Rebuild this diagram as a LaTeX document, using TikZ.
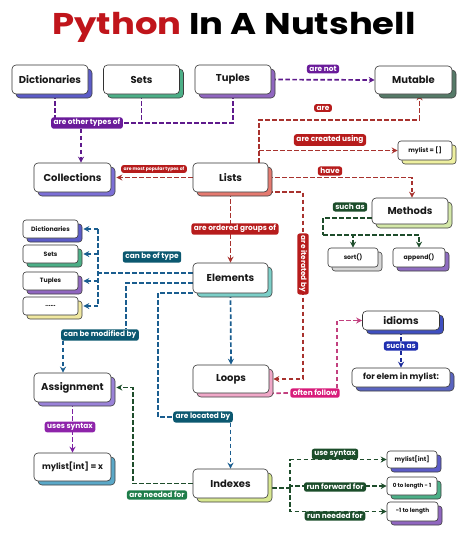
\documentclass[tikz,border=0pt]{standalone}
\usepackage{fontspec}
\setmainfont{Poppins}
\usepackage{tikz}
\usetikzlibrary{arrows.meta,shadows,backgrounds}

\definecolor{pyred}{HTML}{C0151B}
\definecolor{purpl}{HTML}{5E1A8C}
\definecolor{purlbl}{HTML}{6A1B9A}
\definecolor{redl}{HTML}{A8322E}
\definecolor{redlbl}{HTML}{B71C1C}
\definecolor{grn}{HTML}{1E4D2B}
\definecolor{grnlbl}{HTML}{1B4D2A}
\definecolor{blu}{HTML}{1A5D8F}
\definecolor{tealbl}{HTML}{0B5870}
\definecolor{pnk}{HTML}{C2407F}
\definecolor{pnklbl}{HTML}{D81B7A}
\definecolor{ib}{HTML}{1A2A9A}
\definecolor{iblbl}{HTML}{1F2FB0}
\definecolor{upur}{HTML}{7B1FA2}
\definecolor{upurlbl}{HTML}{8E24AA}
\definecolor{ngrlbl}{HTML}{1E7D4A}
% shadow colours
\definecolor{dictc}{HTML}{5C5CC8}
\definecolor{setsc}{HTML}{4CAF87}
\definecolor{tupc}{HTML}{9066C0}
\definecolor{mutc}{HTML}{557A68}
\definecolor{collc}{HTML}{7C6FD6}
\definecolor{listc}{HTML}{E57A70}
\definecolor{elemc}{HTML}{7CCFC8}
\definecolor{methc}{HTML}{D4E8A8}
\definecolor{sortc}{HTML}{D6D6D6}
\definecolor{appc}{HTML}{8E6CC0}
\definecolor{emptyc}{HTML}{EEF0A0}
\definecolor{idic}{HTML}{3F4FC0}
\definecolor{forc}{HTML}{5A64C0}
\definecolor{loopc}{HTML}{F0A8C8}
\definecolor{assc}{HTML}{9A82D8}
\definecolor{mlxc}{HTML}{5AA8C8}
\definecolor{idxc}{HTML}{D8E890}
\definecolor{dotc}{HTML}{F0E8A0}

\pgfdeclarelayer{bottom}
\pgfsetlayers{bottom,background,main}

\tikzset{
  box/.style={draw=black!80, line width=0.6pt, rounded corners=4pt, fill=white,
    text=black!90, inner sep=1pt, font=\bfseries\fontsize{10}{12}\selectfont},
  shade/.style={general shadow={shadow xshift=4pt, shadow yshift=-4pt,
    fill=#1, draw=black!75, line width=0.6pt}},
  mainbox/.style={box, shade=#1, minimum width=76pt, minimum height=29pt},
  minibox/.style={box, shade=#1, rounded corners=3pt, minimum width=52pt, minimum height=18pt,
    font=\bfseries\fontsize{6.2}{7}\selectfont},
  lbl/.style={rounded corners=2.5pt, fill=#1, text=white, inner xsep=2.5pt, inner ysep=1.8pt,
    font=\bfseries\fontsize{7.4}{8}\selectfont},
  link/.style={draw=#1, line width=1.7pt, dash pattern=on 4.5pt off 2.5pt},
  tip/.style={-{Stealth[length=6pt,width=6pt]}}
}

\begin{document}
\begin{tikzpicture}[x=1pt, y=-1pt]
\begin{pgfonlayer}{bottom}
  \fill[white] (0,0) rectangle (475,538);
\end{pgfonlayer}
\useasboundingbox (0,0) rectangle (475,538);

\node[xscale=1.18] (title) at (234,27) {\fontsize{30}{34}\selectfont\bfseries\textcolor{pyred}{Python} In A Nutshell};

% boxes
\node[mainbox=dictc] (dict) at (50,79.5) {Dictionaries};
\node[mainbox=setsc] (sets) at (141.5,79.5) {Sets};
\node[mainbox=tupc] (tuples) at (233,79.5) {Tuples};
\node[mainbox=mutc, minimum width=77pt, minimum height=28pt] (mutable) at (413.5,80) {Mutable};
\node[mainbox=collc, minimum width=77pt] (coll) at (72.5,177.5) {Collections};
\node[mainbox=listc, minimum width=75pt] (lists) at (230.5,177.5) {Lists};
\node[minibox=emptyc, minimum width=54pt, minimum height=19pt] (mylistempty) at (425,150.5) {mylist = []};
\node[mainbox=methc, minimum height=26pt] (methods) at (410,211) {Methods};
\node[minibox=sortc, minimum width=50pt, minimum height=19pt] (sort) at (353,257.5) {sort()};
\node[minibox=appc, minimum height=19pt] (append) at (419,257.5) {append()};
\node[mainbox=elemc, minimum width=75pt, minimum height=30pt] (elem) at (230.5,278) {Elements};
\node[minibox=dictc, minimum width=55pt] (sdict) at (50.5,229) {Dictionaries};
\node[minibox=setsc, minimum width=55pt] (ssets) at (50.5,254) {Sets};
\node[minibox=tupc, minimum width=55pt] (stuples) at (50.5,281) {Tuples};
\node[minibox=dotc, minimum width=55pt] (sdots) at (50.5,306) {......};
\node[mainbox=idic, minimum width=77pt, minimum height=19pt] (idioms) at (401,320.5) {idioms};
\node[mainbox=forc, minimum width=98pt, minimum height=19pt, font=\bfseries\fontsize{8.3}{10}\selectfont] (forelem) at (401,377.5) {for elem in mylist:};
\node[mainbox=loopc, minimum height=28pt] (loops) at (231,379) {Loops};
\node[mainbox=assc, minimum width=77pt] (assign) at (72.5,387.5) {Assignment};
\node[mainbox=mlxc, minimum width=77pt, minimum height=28pt, font=\bfseries\fontsize{8.3}{10}\selectfont] (mylistx) at (72.5,467) {mylist[int] = x};
\node[mainbox=idxc, minimum width=75pt] (indexes) at (230.5,483.5) {Indexes};
\node[minibox=dictc, minimum width=50pt, minimum height=17pt] (mint) at (412,459.5) {mylist[int]};
\node[minibox=setsc, minimum width=50pt, font=\bfseries\fontsize{5.6}{7}\selectfont] (fwd) at (412,486) {0 to length - 1};
\node[minibox=tupc, minimum width=51pt, minimum height=19pt, font=\bfseries\fontsize{5.8}{7}\selectfont] (bwd) at (412.5,511.5) {-1 to length};

% labels
\node[lbl=purlbl] (arenot) at (323,69) {are not};
\node[lbl=purlbl] (othertypes) at (87,123) {are other types of};
\node[lbl=redlbl, font=\bfseries\fontsize{4.6}{5}\selectfont, inner ysep=1.5pt] (popular) at (154,169) {are most popular types of};
\node[lbl=redlbl] (are) at (323,108) {are};
\node[lbl=redlbl] (created) at (330,140) {are created using};
\node[lbl=redlbl] (have) at (330,171) {have};
\node[lbl=grnlbl] (suchas) at (350,207) {such as};
\node[lbl=redlbl] (ordered) at (235,229) {are ordered groups of};
\node[lbl=redlbl, rotate=-90] (iterated) at (303,264) {are iterated by};
\node[lbl=tealbl] (oftype) at (152,257) {can be of type};
\node[lbl=tealbl] (modified) at (100,335) {can be modified by};
\node[lbl=tealbl] (located) at (203,417) {are located by};
\node[lbl=pnklbl] (oftenfollow) at (315,393) {often follow};
\node[lbl=iblbl] (suchastoo) at (401,346) {such as};
\node[lbl=upurlbl] (usessyntax) at (70,427) {uses syntax};
\node[lbl=ngrlbl] (needed) at (157,495) {are needed for};
\node[lbl=grnlbl] (usesyntax) at (335,454) {use syntax};
\node[lbl=grnlbl] (runfwd) at (335,487) {run forward for};
\node[lbl=grnlbl] (runneeded) at (335,516) {run needed for};

\coordinate (ot) at ([xshift=-6pt]othertypes.south);
\coordinate (lup) at ([xshift=-9pt]lists.north east);
\coordinate (mup) at ([xshift=6pt]mutable.south);
\coordinate (mj) at (323,235);
\coordinate (bj) at (98,273);
\coordinate (mb) at ([xshift=26pt]modified.north);
\coordinate (ma) at ([xshift=-37pt]modified.south);
\coordinate (of) at ([xshift=22pt]oftenfollow.north);
\coordinate (ij) at (290,488);

\begin{scope}[on background layer]
  % collections
  \draw[link=purpl, tip] (tuples.east) -- (mutable.west);
  \draw[link=purpl] ([xshift=5pt]dict.south) -- ++(0,28);
  \draw[link=purpl] (sets.south) |- (othertypes.east);
  \draw[link=purpl] (tuples.south) |- (othertypes.east);
  \draw[link=purpl, tip] (ot) -- (ot |- coll.north);
  % lists
  \draw[link=redl, tip] (lists.west) -- ([xshift=5pt]coll.east);
  \draw[link=redl, tip] (lup) -- ++(0,-43) -| (mup);
  \draw[link=redl, tip] (lup |- mylistempty.west) -- (mylistempty.west);
  \draw[link=redl, tip] (lists.east) -| ([xshift=2pt]methods.north);
  \draw[link=redl, tip] (lists.south) -- (elem.north);
  \draw[link=redl, tip] (lists.south east) -| (iterated.center) |- ([xshift=4pt]loops.east);
  % methods
  \draw[link=grn] ([yshift=-7pt]methods.west) -| (mj);
  \draw[link=grn, tip] (mj) -| (sort.north);
  \draw[link=grn, tip] (mj) -| (append.north);
  % elements
  \draw[link=blu] ([yshift=5pt]elem.west) -- (bj);
  \draw[link=blu] (sdict.east -| bj) -- (sdots.east -| bj);
  \foreach \n in {sdict,ssets,stuples,sdots}
    \draw[link=blu, tip] (\n.east -| bj) -- ([xshift=5pt]\n.east);
  \draw[link=blu] ([yshift=-5pt]elem.west) -| (mb);
  \draw[link=blu, tip] (ma) -- (ma |- assign.north);
  \draw[link=blu, tip] (elem.south) -- (loops.north);
  \draw[link=blu] (elem.south west) -- ++(-35,0) |- (located.west);
  \draw[link=blu, tip] (indexes.north |- located.south) -- (indexes.north);
  % loops
  \draw[link=pnk] (loops.south east) -- (oftenfollow.west);
  \draw[link=pnk, tip] (of) |- (idioms.west);
  \draw[link=ib] (idioms.south) -- (suchastoo.north);
  \draw[link=ib, tip] (suchastoo.south) -- (forelem.north);
  % assignment and indexes
  \draw[link=upur, tip] (assign.south) -- (mylistx.north);
  \draw[link=grn, tip] (indexes.west) -- ++(-60,0) |- ([xshift=5pt]assign.east);
  \draw[link=grn] ([shift={(4pt,-4.5pt)}]indexes.east) -- (ij);
  \foreach \n in {mint,fwd,bwd}
    \draw[link=grn, tip] (ij) |- (\n.west);
\end{scope}
\end{tikzpicture}
\end{document}
